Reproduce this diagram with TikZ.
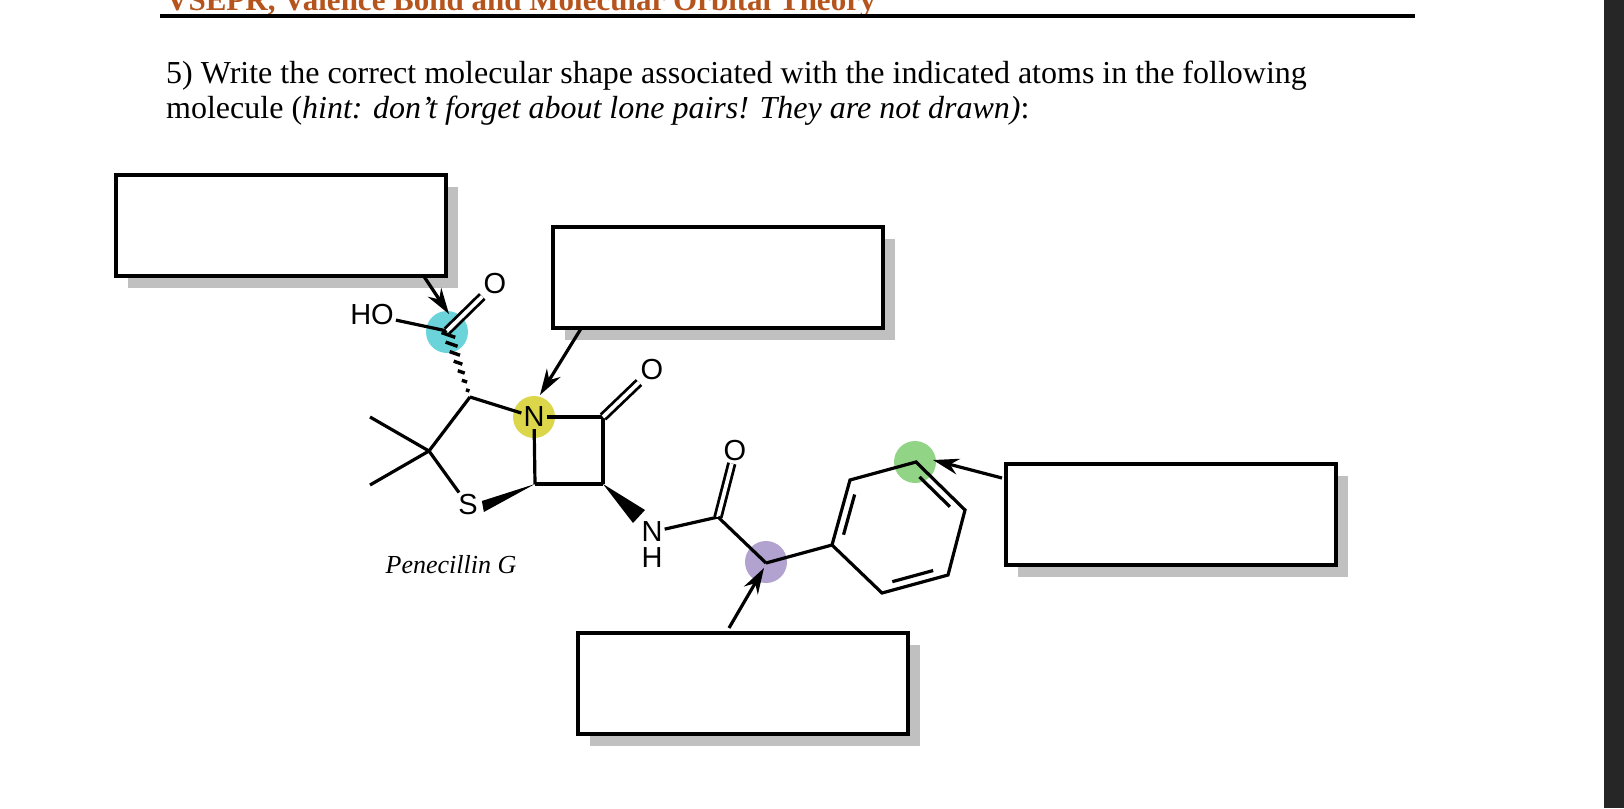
\documentclass[tikz,border=0pt]{standalone}
\usepackage{fontspec}
\setmainfont{Liberation Serif}
\setsansfont{Liberation Sans}
\usetikzlibrary{arrows.meta,calc}
\definecolor{titlec}{HTML}{B5541C}
\definecolor{cyanc}{HTML}{6AD4DA}
\definecolor{yelc}{HTML}{DCD64A}
\definecolor{purc}{HTML}{B1A2D0}
\definecolor{grnc}{HTML}{92D485}
\definecolor{shad}{HTML}{C0C0C0}
\begin{document}
\begin{tikzpicture}[x=1pt,y=-1pt,
  bond/.style={line width=3.2pt},
  dbond/.style={line width=2.8pt,double distance=3.8pt,double=white},
  atom/.style={font=\sffamily\fontsize{29}{29}\selectfont,inner sep=2pt},
  ansbox/.style={draw,line width=3.6pt,fill=white,minimum width=330pt,minimum height=101pt,anchor=north west},
  ptr/.style={line width=3.2pt,-{Stealth[length=26pt,width=16pt]}}]
\useasboundingbox (0,0) rectangle (1624,808);
\fill[white] (0,0) rectangle (1624,808);
\fill[black!70!gray] (1604,0) rectangle (1624,808);
% title and rule
\node[anchor=base west,text=titlec,font=\bfseries\fontsize{31}{31}\selectfont,inner sep=0] (title) at (166,11) {VSEPR, Valence Bond and Molecular Orbital Theory};
\draw[line width=3.4pt] (160,16) -- (1415,16);
\node[anchor=base west,inner sep=0,font=\fontsize{32}{35}\selectfont] (q1) at (166,83) {5) Write the correct molecular shape associated with the indicated atoms in the following};
\node[anchor=base west,inner sep=0,font=\fontsize{32}{35}\selectfont] (q2) at (166,118) {molecule (\textit{hint: don’t forget about lone pairs! They are not drawn)}:};
% shadows and boxes
\foreach \bx/\by/\nm in {114/173/b1,551/225/b2,1004/462/b3,576/631/b4}{
  \fill[shad] (\bx+14,\by+14) rectangle ++(330,101);
  \node[ansbox] (\nm) at (\bx,\by) {};
}
% highlight circles
\fill[cyanc] (447,332) circle (21);
\fill[yelc] (534,417) circle (21);
\fill[purc] (766,562) circle (21);
\fill[grnc] (915,462) circle (21);
% atoms
\coordinate (cc) at (447,331);
\coordinate (c3) at (470,397);
\coordinate (c2) at (429,451);
\coordinate (m1) at (370,417);
\coordinate (m2) at (370,485);
\coordinate (c5) at (535,484);
\coordinate (c7) at (603,417);
\coordinate (c6) at (603,484);
\coordinate (ca) at (718,517);
\coordinate (ch) at (766,563);
\coordinate (r1) at (832,545);
\coordinate (r2) at (850,480);
\coordinate (r3) at (916,462);
\coordinate (r4) at (965,510);
\coordinate (r5) at (948,575);
\coordinate (r6) at (882,593);
\coordinate (rc) at (898.8,527.5);
\node[atom] (ho) at (372,315) {HO};
\node[atom] (o1) at (495,284) {O};
\node[atom] (n) at (534,417) {N};
\node[atom] (s) at (468,505) {S};
\node[atom] (o2) at (652,370) {O};
\node[atom] (nh) at (652,532) {N};
\node[atom,inner sep=0] (h) at (652,558) {H};
\node[atom] (o3) at (735,451) {O};
% bonds
\draw[bond] (ho) -- (cc);
\draw[dbond] (cc) -- (o1);
\foreach \t in {0.1,0.24,...,1.0}{
  \pgfmathsetmacro{\px}{470-23*\t}\pgfmathsetmacro{\py}{397-66*\t}\pgfmathsetmacro{\hw}{1.2+6.5*\t}
  \draw[line width=3.4pt] (\px+0.94*\hw,\py+0.33*\hw) -- (\px-0.94*\hw,\py-0.33*\hw);
}
\draw[bond] (c3) -- (n);
\draw[bond] (c3) -- (c2);
\draw[bond] (c2) -- (m1);
\draw[bond] (c2) -- (m2);
\draw[bond] (c2) -- (s);
\draw[bond] (n) -- (c7);
\draw[bond] (n) -- (c5);
\draw[bond] (c5) -- (c6);
\draw[bond] (c6) -- (c7);
\draw[dbond] (c7) -- (o2);
\fill ($(s.east)+(2,-4)$) -- ($(s.east)+(4,7)$) -- (c5) -- cycle;
\fill (c6) -- (645,510) -- (633,523) -- cycle;
\draw[bond] (nh) -- (ca);
\draw[dbond] (ca) -- (o3);
\draw[bond] (ca) -- (ch);
\draw[bond] (ch) -- (r1);
\draw[bond,line join=miter] (r1) -- (r2) -- (r3) -- (r4) -- (r5) -- (r6) -- cycle;
\foreach \a/\b in {r1/r2,r3/r4,r5/r6}{
  \draw[bond] ($($(\a)!0.14!(\b)$)!0.14!(rc)$) -- ($($(\a)!0.86!(\b)$)!0.14!(rc)$);
}
\node[font=\itshape\fontsize{26}{26}\selectfont] (lbl) at (451,565) {Penecillin G};
% pointers
\coordinate (t1) at (449,314);
\coordinate (t2) at (540,395);
\coordinate (t3) at (933,460);
\coordinate (t4) at (764,568);
\draw[ptr] (423,275) -- (t1);
\draw[ptr] (582,327) -- (t2);
\draw[ptr] (1002,478) -- (t3);
\draw[ptr] (729,628) -- (t4);
\end{tikzpicture}
\end{document}
